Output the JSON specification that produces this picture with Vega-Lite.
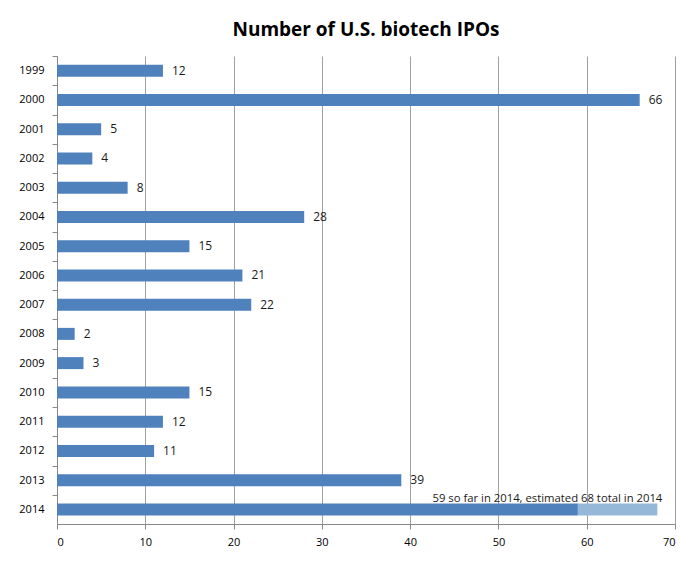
{
  "$schema": "https://vega.github.io/schema/vega-lite/v6.json",
  "autosize": {"type": "none"},
  "padding": {"left": 57, "top": 56, "right": 25, "bottom": 41},
  "width": 618,
  "height": 468,
  "background": "white",
  "title": {
    "text": "Number of U.S. biotech IPOs",
    "font": "Open Sans",
    "fontSize": 19,
    "fontWeight": "bold",
    "color": "black",
    "anchor": "middle",
    "offset": 16
  },
  "config": {
    "view": {"stroke": null},
    "font": "Open Sans"
  },
  "datasets": {
    "ipos": [
      {"year": "1999", "count": 12, "part": "so far"},
      {"year": "2000", "count": 66, "part": "so far"},
      {"year": "2001", "count": 5, "part": "so far"},
      {"year": "2002", "count": 4, "part": "so far"},
      {"year": "2003", "count": 8, "part": "so far"},
      {"year": "2004", "count": 28, "part": "so far"},
      {"year": "2005", "count": 15, "part": "so far"},
      {"year": "2006", "count": 21, "part": "so far"},
      {"year": "2007", "count": 22, "part": "so far"},
      {"year": "2008", "count": 2, "part": "so far"},
      {"year": "2009", "count": 3, "part": "so far"},
      {"year": "2010", "count": 15, "part": "so far"},
      {"year": "2011", "count": 12, "part": "so far"},
      {"year": "2012", "count": 11, "part": "so far"},
      {"year": "2013", "count": 39, "part": "so far"},
      {"year": "2014", "count": 59, "part": "so far"},
      {"year": "2014", "count": 9, "part": "estimated"}
    ],
    "note": [
      {"year": "2014", "total": 68, "label": "59 so far in 2014, estimated 68 total in 2014"}
    ]
  },
  "layer": [
    {
      "data": {"name": "ipos"},
      "mark": {"type": "bar", "size": 12},
      "encoding": {
        "y": {
          "field": "year", "type": "nominal", "sort": null,
          "scale": {"paddingInner": 0, "paddingOuter": 0},
          "axis": {
            "title": null,
            "domainColor": "#888888",
            "tickColor": "#888888",
            "tickSize": 5,
            "tickOffset": -14.625,
            "labelOffset": 14.625,
            "labelPadding": 8,
            "labelFontSize": 11,
            "labelColor": "black",
            "labelFont": "Open Sans"
          }
        },
        "x": {
          "field": "count", "type": "quantitative", "stack": "zero",
          "scale": {"domain": [0, 70], "nice": false},
          "axis": {
            "title": null,
            "values": [0, 10, 20, 30, 40, 50, 60, 70],
            "grid": true,
            "gridColor": "#a0a0a0",
            "domainColor": "#888888",
            "tickColor": "#888888",
            "tickSize": 5,
            "labelPadding": 7,
            "labelFontSize": 11,
            "labelColor": "black",
            "labelFont": "Open Sans"
          }
        },
        "color": {
          "field": "part", "type": "nominal",
          "scale": {"domain": ["so far", "estimated"], "range": ["#4F81BD", "#95B8D9"]},
          "legend": null
        },
        "order": {"field": "part", "sort": "descending"}
      }
    },
    {
      "data": {"name": "ipos"},
      "transform": [{"filter": "datum.year != '2014'"}],
      "mark": {"type": "text", "align": "left", "baseline": "middle", "dx": 9, "fontSize": 12, "color": "#1a1a1a", "font": "Open Sans"},
      "encoding": {
        "y": {"field": "year", "type": "nominal", "sort": null},
        "x": {"field": "count", "type": "quantitative"},
        "text": {"field": "count", "type": "quantitative"}
      }
    },
    {
      "data": {"name": "note"},
      "mark": {"type": "text", "align": "right", "baseline": "bottom", "dy": -5, "dx": 5, "fontSize": 11.3, "color": "#1a1a1a", "font": "Open Sans"},
      "encoding": {
        "y": {"field": "year", "type": "nominal", "sort": null},
        "x": {"field": "total", "type": "quantitative"},
        "text": {"field": "label", "type": "nominal"}
      }
    }
  ]
}
